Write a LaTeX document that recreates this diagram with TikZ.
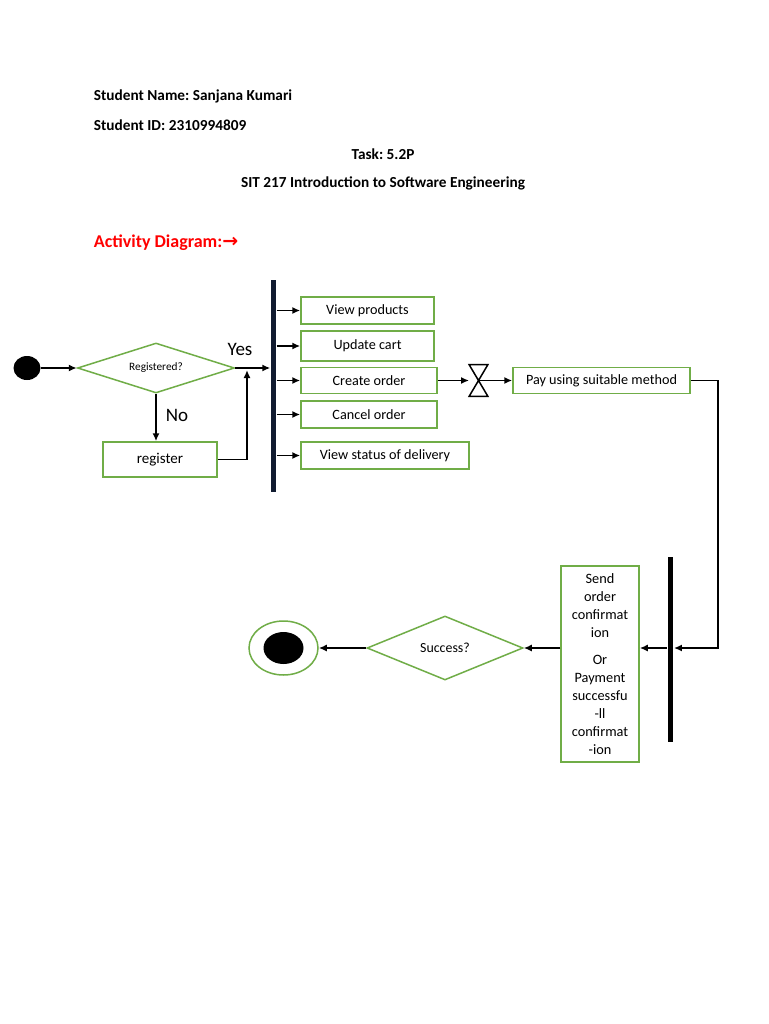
\documentclass[tikz,border=0pt]{standalone}
\usepackage{fontspec}
\setmainfont{Carlito}
\newfontfamily\symfont{DejaVu Sans}
\usetikzlibrary{shapes.geometric,arrows.meta}
\definecolor{actgreen}{HTML}{70AD47}
\definecolor{barnavy}{HTML}{111B30}
\frenchspacing

\begin{document}
\begin{tikzpicture}[x=1pt,y=-1pt,line width=1.8pt,>={Latex[length=8pt,width=7pt]}]
    % `action' is used for the green activity boxes.
    % `decision' is used for the green diamonds.
    % `bar' is used for the fork and join bars.
    \tikzstyle{action} = [draw=actgreen,line width=1.5pt,fill=white,inner sep=2pt,
                          font=\fontsize{14.2}{17}\selectfont]
    \tikzstyle{decision} = [draw=actgreen,line width=1.5pt,shape=diamond,aspect=3,inner sep=0pt]
    \tikzstyle{bar} = [shape=rectangle,inner sep=0pt,minimum width=5pt]
    \tikzstyle{header} = [font=\fontsize{15.3}{18}\selectfont\bfseries,inner sep=0pt]
    \tikzstyle{hand} = [font=\fontsize{19}{21}\selectfont,inner sep=0pt]
    %
    \useasboundingbox[fill=white] (0,0) rectangle (768,1024);
    % Header texts.
    \node[header,anchor=west] (name) at (93,96) {Student Name: Sanjana Kumari};
    \node[header,anchor=west] (sid) at (93,125) {Student ID: 2310994809};
    \node[header] (task) at (383,154) {Task: 5.2P};
    \node[header] (unit) at (383,183) {SIT 217 Introduction to Software Engineering};
    \node[header,anchor=west,text=red,font=\fontsize{18}{21}\selectfont\bfseries] (title) at (93,243)
         {Activity Diagram:{\symfont\fontsize{19}{21}\selectfont →}};
    %
    % Start, first decision and register.
    \node[fill,shape=ellipse,minimum width=27pt,minimum height=24pt,inner sep=0pt] (start) at (27,368) {};
    \node[decision,minimum width=157pt,minimum height=50pt,font=\fontsize{11.3}{13}\selectfont] (reg) at (156,368) {Registered?};
    \node[action,minimum width=114pt,minimum height=35pt,font=\fontsize{15}{17}\selectfont] (regbox) at (160,459.5) {register};
    \coordinate (merge) at (247,370);
    %
    % Fork bar and the actions after it.
    \node[bar,fill=barnavy,minimum width=4.5pt,minimum height=212pt] (fork) at (273.5,386) {};
    \node[action,minimum width=133pt,minimum height=27pt] (vp) at (367.5,310.5) {View products};
    \node[action,minimum width=133pt,minimum height=30pt] (uc) at (367.5,346) {Update cart};
    \node[action,minimum width=136pt,minimum height=26pt] (co) at (369,380.5) {Create order};
    \node[action,minimum width=136pt,minimum height=27pt] (cn) at (369,414.5) {Cancel order};
    \node[action,minimum width=168pt,minimum height=27pt] (vs) at (385,455.5) {View status of delivery};
    %
    % Wait (hourglass) and payment.
    \node[minimum width=17pt,minimum height=30pt,inner sep=0pt] (wait) at (478.5,380.5) {};
    \node[action,minimum width=177pt,minimum height=26pt] (pay) at (601.5,380.5) {Pay using suitable method};
    %
    % Join bar, confirmation, second decision and end.
    \node[bar,fill=black,minimum height=185pt] (join) at (670.5,649.5) {};
    \node[action,minimum width=78pt,minimum height=196pt,align=center,
          font=\fontsize{14.3}{18}\selectfont] (send) at (600,664)
         {Send\\order\\confirmat\\ion\\[9pt]Or\\Payment\\successfu\\-ll\\confirmat\\-ion};
    \node[decision,minimum width=156pt,minimum height=64pt,font=\fontsize{13.9}{16}\selectfont] (succ) at (445,648) {Success?};
    \node[draw=actgreen,line width=1.5pt,shape=ellipse,minimum width=69pt,minimum height=54pt] (finish) at (283.5,648) {};
    \node[fill,shape=ellipse,minimum width=40pt,minimum height=32pt,inner sep=0pt] (finishdot) at (finish) {};
    \coordinate (turn) at (718,648);
    %
    % Hourglass.
    \draw[line width=1.5pt] (wait.north west) -- (wait.north east) -- (wait.south west)
                            -- (wait.south east) -- cycle;
    %
    % Connectors.
    \draw[->] (start) -- (reg.west);
    \draw[->] (reg.east) -- (fork.west |- reg.east);
    \node[hand] (yes) at (240,349) {Yes};
    \draw[->] (reg.south) -- (reg.south |- regbox.north);
    \node[hand] (no) at (177,415) {No};
    \draw[->] (regbox.east) -| (merge);
    \foreach \b in {vp,uc,co,cn,vs}
        \draw[->] (fork.east |- \b.west) -- (\b.west);
    \draw[->] (co.east) -- (wait.west);
    \draw[->] (wait.center) -- (pay.west);
    \draw[->] (pay.east) -| (turn) -- (join.east |- turn);
    \draw[->] (join.west |- turn) -- (send.east |- turn);
    \draw[->] (send.west |- turn) -- (succ.east);
    \draw[->] (succ.west) -- (finish.east);
\end{tikzpicture}
\end{document}
